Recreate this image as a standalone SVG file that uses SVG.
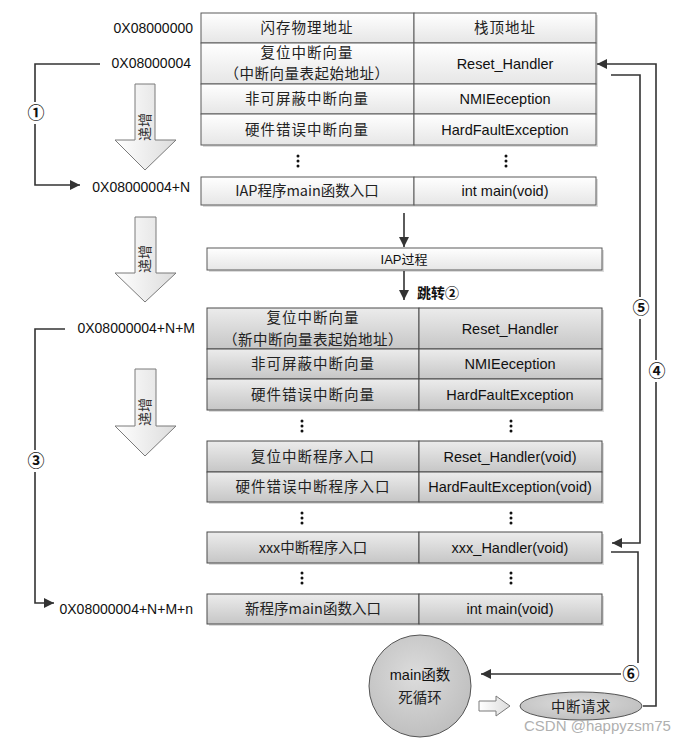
<svg xmlns="http://www.w3.org/2000/svg" width="688" height="745" viewBox="0 0 688 745">
<defs>
<linearGradient id="gW" x1="0" y1="0" x2="0" y2="1"><stop offset="0" stop-color="#ffffff"/><stop offset="1" stop-color="#e6e6e6"/></linearGradient>
<linearGradient id="gG" x1="0" y1="0" x2="0" y2="1"><stop offset="0" stop-color="#ececec"/><stop offset="1" stop-color="#c6c6c6"/></linearGradient>
<linearGradient id="gA" x1="0" y1="0" x2="1" y2="0"><stop offset="0" stop-color="#ffffff"/><stop offset="1" stop-color="#dcdcdc"/></linearGradient>
<radialGradient id="gC" cx="0.45" cy="0.4" r="0.65"><stop offset="0" stop-color="#dcdcdc"/><stop offset="1" stop-color="#bdbdbd"/></radialGradient>
<marker id="ah" viewBox="0 0 10 10" refX="10" refY="5" markerWidth="10" markerHeight="10" markerUnits="userSpaceOnUse" orient="auto"><path d="M0,0 L10,5 L0,10 z" fill="#333"/></marker>
</defs>
<style>
.cw{fill:url(#gW);stroke:#5a5a5a;stroke-width:1}
.cg{fill:url(#gG);stroke:#4a4a4a;stroke-width:1}
.sh{fill:#dcdcdc;stroke:none}
.zh{font-family:"Noto Sans CJK SC","Liberation Sans",sans-serif;font-size:14.5px;fill:#222;text-anchor:middle;letter-spacing:1px}
.en{font-family:"Liberation Sans","Noto Sans CJK SC",sans-serif;font-size:14.5px;fill:#111;text-anchor:middle}
.ad{font-family:"Liberation Sans",sans-serif;font-size:14px;fill:#111;text-anchor:end}
.ln{fill:none;stroke:#333;stroke-width:1.6}
.dot{fill:#111}
.num{font-family:"Noto Sans CJK SC","DejaVu Sans",sans-serif;font-size:17px;font-weight:bold;fill:#111;text-anchor:middle}
.ha{fill:url(#gA);stroke:#7a7a7a;stroke-width:1}
.dz{font-family:"Noto Sans CJK SC",sans-serif;font-size:14px;fill:#333;text-anchor:middle}
</style>

<g id="addresses">
<text class="ad" x="193" y="33">0X08000000</text>
<text class="ad" x="191" y="68">0X08000004</text>
<text class="ad" x="190" y="192">0X08000004+N</text>
<text class="ad" x="195" y="333">0X08000004+N+M</text>
<text class="ad" x="193" y="614">0X08000004+N+M+n</text>
</g>

<g id="table1">
<rect class="sh" x="203" y="15" width="395" height="132"/>
<rect class="cw" x="201" y="13" width="213" height="30"/><rect class="cw" x="414" y="13" width="182" height="30"/>
<rect class="cw" x="201" y="43" width="213" height="41"/><rect class="cw" x="414" y="43" width="182" height="41"/>
<rect class="cw" x="201" y="84" width="213" height="30"/><rect class="cw" x="414" y="84" width="182" height="30"/>
<rect class="cw" x="201" y="114" width="213" height="31"/><rect class="cw" x="414" y="114" width="182" height="31"/>
<text class="zh" x="307" y="33">闪存物理地址</text><text class="zh" x="505" y="33">栈顶地址</text>
<text class="zh" x="307" y="58">复位中断向量</text><text class="zh" x="307" y="79" style="letter-spacing:0.5px">（中断向量表起始地址）</text>
<text class="en" x="505" y="69">Reset_Handler</text>
<text class="zh" x="307" y="104">非可屏蔽中断向量</text><text class="en" x="505" y="104">NMIEeception</text>
<text class="zh" x="307" y="135">硬件错误中断向量</text><text class="en" x="505" y="135">HardFaultException</text>
</g>
<g id="dots1"><circle class="dot" cx="298" cy="156" r="1.5"/><circle class="dot" cx="298" cy="161" r="1.5"/><circle class="dot" cx="298" cy="166" r="1.5"/>
<circle class="dot" cx="506" cy="156" r="1.5"/><circle class="dot" cx="506" cy="161" r="1.5"/><circle class="dot" cx="506" cy="166" r="1.5"/></g>
<g id="iap-main">
<rect class="sh" x="203" y="179" width="395" height="28"/>
<rect class="cw" x="201" y="177" width="213" height="28"/><rect class="cw" x="414" y="177" width="182" height="28"/>
<text class="zh" x="307" y="196" style="letter-spacing:0">IAP程序main函数入口</text><text class="en" x="505" y="196">int main(void)</text>
</g>
<g id="iap-process">
<rect class="sh" x="209" y="250" width="395" height="22"/>
<rect class="cw" x="207" y="248" width="395" height="22"/>
<text class="en" x="404" y="264" style="font-size:13px;font-family:'Liberation Sans','Noto Sans CJK SC',sans-serif">IAP过程</text>
</g>

<g id="table2">
<rect class="sh" x="209" y="310" width="395" height="102"/>
<rect class="cg" x="207" y="308" width="212" height="41"/><rect class="cg" x="419" y="308" width="183" height="41"/>
<rect class="cg" x="207" y="349" width="212" height="30"/><rect class="cg" x="419" y="349" width="183" height="30"/>
<rect class="cg" x="207" y="379" width="212" height="31"/><rect class="cg" x="419" y="379" width="183" height="31"/>
<text class="zh" x="313" y="323">复位中断向量</text><text class="zh" x="313" y="345" style="letter-spacing:0.5px">（新中断向量表起始地址）</text>
<text class="en" x="510" y="334">Reset_Handler</text>
<text class="zh" x="313" y="369">非可屏蔽中断向量</text><text class="en" x="510" y="369">NMIEeception</text>
<text class="zh" x="313" y="400">硬件错误中断向量</text><text class="en" x="510" y="400">HardFaultException</text>
</g>
<g id="dots2"><circle class="dot" cx="302" cy="421" r="1.5"/><circle class="dot" cx="302" cy="426" r="1.5"/><circle class="dot" cx="302" cy="431" r="1.5"/>
<circle class="dot" cx="511" cy="421" r="1.5"/><circle class="dot" cx="511" cy="426" r="1.5"/><circle class="dot" cx="511" cy="431" r="1.5"/></g>
<g id="handlers">
<rect class="sh" x="209" y="443" width="395" height="61"/>
<rect class="cg" x="207" y="441" width="212" height="31"/><rect class="cg" x="419" y="441" width="183" height="31"/>
<rect class="cg" x="207" y="472" width="212" height="30"/><rect class="cg" x="419" y="472" width="183" height="30"/>
<text class="zh" x="313" y="462">复位中断程序入口</text><text class="en" x="510" y="462">Reset_Handler(void)</text>
<text class="zh" x="313" y="492">硬件错误中断程序入口</text><text class="en" x="510" y="492">HardFaultException(void)</text>
</g>
<g id="dots3"><circle class="dot" cx="302" cy="513" r="1.5"/><circle class="dot" cx="302" cy="518" r="1.5"/><circle class="dot" cx="302" cy="523" r="1.5"/>
<circle class="dot" cx="511" cy="513" r="1.5"/><circle class="dot" cx="511" cy="518" r="1.5"/><circle class="dot" cx="511" cy="523" r="1.5"/></g>
<g id="xxx-handler">
<rect class="sh" x="209" y="534" width="395" height="31"/>
<rect class="cg" x="207" y="532" width="212" height="31"/><rect class="cg" x="419" y="532" width="183" height="31"/>
<text class="zh" x="313" y="553" style="letter-spacing:0">xxx中断程序入口</text><text class="en" x="510" y="553">xxx_Handler(void)</text>
</g>
<g id="dots4"><circle class="dot" cx="302" cy="573" r="1.5"/><circle class="dot" cx="302" cy="578" r="1.5"/><circle class="dot" cx="302" cy="583" r="1.5"/>
<circle class="dot" cx="511" cy="573" r="1.5"/><circle class="dot" cx="511" cy="578" r="1.5"/><circle class="dot" cx="511" cy="583" r="1.5"/></g>
<g id="new-main">
<rect class="sh" x="209" y="596" width="395" height="30"/>
<rect class="cg" x="207" y="594" width="212" height="30"/><rect class="cg" x="419" y="594" width="183" height="30"/>
<text class="zh" x="313" y="614" style="letter-spacing:0">新程序main函数入口</text><text class="en" x="510" y="614">int main(void)</text>
</g>

<g id="inc-arrows">
<polygon class="ha" points="135,84 155,84 155,140 176,140 145,170 115,140 135,140"/>
<text class="dz" transform="translate(150,127) rotate(-90)">递增</text>
<polygon class="ha" points="135,217 156,217 156,273 176,273 145,302 115,273 135,273"/>
<text class="dz" transform="translate(150,259) rotate(-90)">递增</text>
<polygon class="ha" points="135,369 156,369 156,426 176,426 145,456 115,426 135,426"/>
<text class="dz" transform="translate(150,412) rotate(-90)">递增</text>
</g>

<g id="main-loop">
<circle cx="420" cy="686" r="51" fill="url(#gC)" stroke="#555" stroke-width="1"/>
<text class="en" x="420" y="680" style="font-family:'Liberation Sans','Noto Sans CJK SC',sans-serif">main函数</text>
<text class="zh" x="420" y="703" style="letter-spacing:0">死循环</text>
</g>
<g id="irq">
<ellipse cx="581" cy="706" rx="61" ry="14" fill="url(#gC)" stroke="#555" stroke-width="1"/>
<text class="zh" x="581" y="712" style="letter-spacing:0.5px">中断请求</text>
</g>
<g id="flow-arrow">
<polygon class="ha" points="479,701 496,701 496,696 510,706 496,716 496,711 479,711"/>
</g>

<g id="connectors">
<path class="ln" d="M100,64 H35 V185 H80" marker-end="url(#ah)"/>
<path class="ln" d="M65,329 H35 V603 H54" marker-end="url(#ah)"/>
<path class="ln" d="M404,213 V247" marker-end="url(#ah)"/>
<path class="ln" d="M404,271 V300" marker-end="url(#ah)"/>
<path class="ln" d="M643,706 H656 V64 H597" marker-end="url(#ah)"/>
<path class="ln" d="M611,75 H640 V543 H612" marker-end="url(#ah)"/>
<path class="ln" d="M611,552 H638 V674 H481" marker-end="url(#ah)"/>
</g>
<g id="labels">
<rect x="26" y="102" width="20" height="22" fill="#fff"/><text class="num" x="36" y="119">①</text>
<text x="417" y="298" style="font-family:'Noto Sans CJK SC',sans-serif;font-size:14px;font-weight:bold;fill:#111">跳转②</text>
<rect x="26" y="450" width="20" height="22" fill="#fff"/><text class="num" x="36" y="467">③</text>
<rect x="647" y="360" width="20" height="22" fill="#fff"/><text class="num" x="657" y="377">④</text>
<rect x="631" y="297" width="20" height="22" fill="#fff"/><text class="num" x="641" y="314">⑤</text>
<rect x="621" y="663" width="20" height="22" fill="#fff"/><text class="num" x="631" y="680">⑥</text>
</g>
<text x="524" y="731" style="font-family:'Liberation Sans',sans-serif;font-size:15px;fill:#b0b0b0">CSDN @happyzsm75</text>
</svg>
